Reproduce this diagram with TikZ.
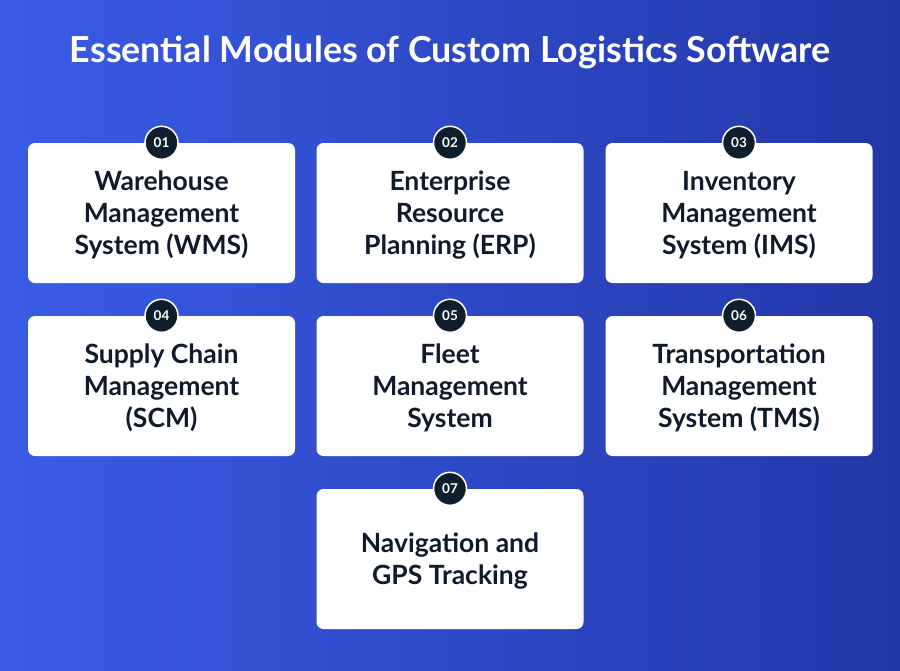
\documentclass[tikz,border=0pt]{standalone}
\usepackage{fontspec}
\setmainfont{Lato}
\definecolor{bgL}{HTML}{3A5CE6}
\definecolor{bgR}{HTML}{2337A8}
\definecolor{badge}{HTML}{0E1E2C}
\definecolor{txt}{HTML}{0F1A2A}
\begin{document}
\begin{tikzpicture}[x=1pt,y=-1pt,
 card/.style={fill=white,rounded corners=7pt,minimum width=267pt,minimum height=140pt,inner sep=0pt},
 lbl/.style={text=txt,font=\bfseries\fontsize{26.5}{32}\selectfont,align=center},
 num/.style={circle,fill=badge,draw=white,line width=1.5pt,minimum size=33pt,inner sep=0pt,text=white,font=\bfseries\fontsize{13.5}{13.5}\selectfont}]
\shade[left color=bgL,right color=bgR] (0,0) rectangle (900,670);
\useasboundingbox (0,0) rectangle (900,670);
\node[text=white,font=\bfseries\fontsize{35.8}{40}\selectfont] (title) at (450,52) {Essential Modules of Custom Logistics Software};
\foreach \n/\x/\y/\t in {1/161.5/213/{Warehouse\\Management\\System (WMS)},
 2/450/213/{Enterprise\\Resource\\Planning (ERP)},
 3/739/213/{Inventory\\Management\\System (IMS)},
 4/161.5/386/{Supply Chain\\Management\\(SCM)},
 5/450/386/{Fleet\\Management\\System},
 6/739/386/{Transportation\\Management\\System (TMS)},
 7/450/559/{Navigation and\\GPS Tracking}}{
 \node[card] (c\n) at (\x,\y) {};
 \node[lbl] (t\n) at (\x,\y+2) {\t};
 \node[num] (b\n) at (c\n.north) {0\n};
}
\end{tikzpicture}
\end{document}
